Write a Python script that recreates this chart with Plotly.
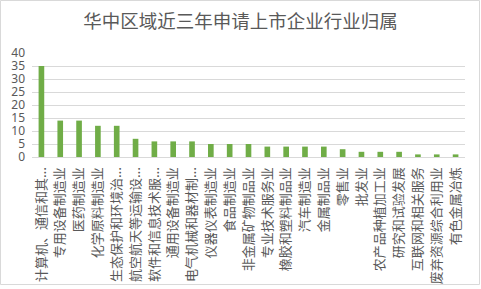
import plotly.graph_objects as go

categories = [
    "计算机、通信和其...", "专用设备制造业", "医药制造业", "化学原料制造业",
    "生态保护和环境治...", "航空航天等运输设...", "软件和信息技术服...", "通用设备制造业",
    "电气机械和器材制...", "仪器仪表制造业", "食品制造业", "非金属矿物制品业",
    "专业技术服务业", "橡胶和塑料制品业", "汽车制造业", "金属制品业",
    "零售业", "批发业", "农产品种植加工业", "研究和试验发展",
    "互联网和相关服务", "废弃资源综合利用业", "有色金属冶炼",
]
values = [35, 14, 14, 12, 12, 7, 6, 6, 6, 5, 5, 5, 4, 4, 4, 4, 3, 2, 2, 2, 1, 1, 1]
y_ticks = [0, 5, 10, 15, 20, 25, 30, 35, 40]
title_text = "华中区域近三年申请上市企业行业归属"

W, H = 481, 289
ml, mr, mt, mb = 32, 16, 53, 132
font = "Noto Sans CJK SC, Noto Sans, sans-serif"

fig = go.Figure(go.Bar(
    x=categories, y=values, marker_color="#70AD47", marker_line_width=0, width=0.3,
))

pw = W - ml - mr
ph = H - mt - mb
fig.update_layout(
    width=W, height=H,
    margin=dict(l=ml, r=mr, t=mt, b=mb, pad=0),
    paper_bgcolor="white", plot_bgcolor="white",
    font=dict(family=font, color="#595959", size=12),
    title=dict(text=title_text, x=0.5, xanchor="center", y=1 - 22 / H, yanchor="middle",
               font=dict(size=18.5, color="#595959", family=font)),
    showlegend=False,
    bargap=0.7,
    shapes=[dict(type="rect", xref="paper", yref="paper",
                 x0=(0.5 - ml) / pw, x1=(W - 1.5 - ml) / pw,
                 y0=-(mb - 4.5) / ph, y1=1 + (mt - 0.5) / ph,
                 line=dict(color="#d9d9d9", width=1))],
)
fig.update_xaxes(tickangle=-90, tickfont=dict(size=13, color="#595959"), showline=True,
                 linecolor="#d9d9d9", linewidth=1, ticks="", showgrid=False,
                 ticklabelstandoff=4, automargin=False)
fig.update_yaxes(range=[0, 40], tickvals=y_ticks, tickfont=dict(size=12, color="#595959",
                 family="Noto Sans, sans-serif"),
                 gridcolor="#d9d9d9", gridwidth=1, zeroline=False, showline=False, ticks="",
                 ticklabelstandoff=6, automargin=False)

fig.write_html("out.html")
